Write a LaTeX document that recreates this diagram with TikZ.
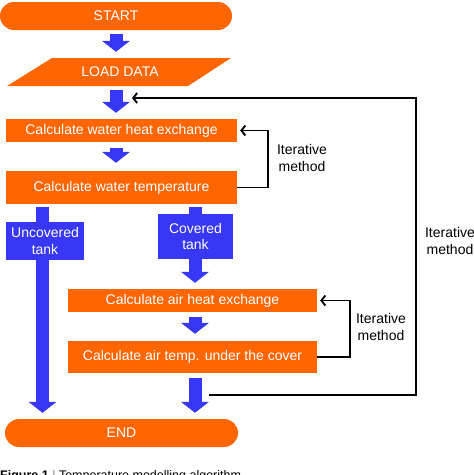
\documentclass[tikz,border=0pt]{standalone}
\usepackage{fontspec}
\setmainfont{Liberation Sans}
\usetikzlibrary{arrows.meta,calc}
\definecolor{orng}{RGB}{255,102,0}
\definecolor{blu}{RGB}{55,55,245}
\begin{document}
\begin{tikzpicture}[x=1pt,y=-1pt,
  box/.style={fill=orng, text=white, inner sep=0pt, font=\fontsize{14}{17}\selectfont},
  term/.style={box, rounded corners=14pt},
  tank/.style={fill=blu, text=white, align=center, inner sep=0pt, font=\fontsize{14}{16.5}\selectfont},
  lbl/.style={align=center, inner sep=0pt, font=\fontsize{14}{17}\selectfont},
  blk/.style={draw=blu, line width=13pt, -{Triangle[width=28pt,length=11pt,line width=0pt]}},
  fb/.style={draw=black, line width=1.8pt, -{Straight Barb[length=4pt,width=10pt]}}
]
\useasboundingbox (0,0) rectangle (474,475);
\coordinate (cL) at (42.5,0);
\coordinate (cC) at (195,0);
\coordinate (cM) at (116,0);

% nodes
\node[term, minimum width=232pt, minimum height=28pt] (start) at (116,16) {START};
\fill[orng] (7,86) -- (52,58) -- (231,58) -- (188,86) -- cycle;
\node[lbl, text=white, minimum height=28pt] (load) at (120,72) {LOAD DATA};
\node[box, minimum width=231pt, minimum height=23pt] (b1) at (121.5,130.5) {Calculate water heat exchange};
\node[box, minimum width=231pt, minimum height=33pt] (b2) at (121.5,187.5) {Calculate water temperature};
\node[box, minimum width=249pt, minimum height=23pt] (b3) at (192.5,300.5) {Calculate air heat exchange};
\node[box, minimum width=249pt, minimum height=32pt] (b4) at (192.5,357) {Calculate air temp. under the cover};
\node[term, minimum width=233pt, minimum height=28pt] (end) at (121.5,433) {END};

% blue block arrows
\draw[blk] ($(start.south -| cM)+(0,4)$) -- ($(load.north -| cM)+(0,-6)$);
\draw[blk] ($(load.south -| cM)+(0,4)$) -- ($(b1.north -| cM)+(0,-6)$);
\draw[blk] ($(b1.south -| cM)+(0,6)$) -- ($(b2.north -| cM)+(0,-8)$);
\draw[blk] ($(b2.south -| cL)+(0,3)$) -- ($(end.north -| cL)+(0,-6)$);
\draw[blk] ($(b2.south -| cC)+(0,3)$) -- ($(b3.north -| cC)+(0,-6)$);
\draw[blk] ($(b3.south -| cC)+(0,5)$) -- ($(b4.north -| cC)+(0,-7)$);
\draw[blk] ($(b4.south -| cC)+(0,5)$) -- ($(end.north -| cC)+(0,-6)$);

\node[tank, minimum width=78pt, minimum height=38pt] (unc) at (45,241) {Uncovered\\tank};
\node[tank, minimum width=75pt, minimum height=45pt] (cov) at (195.5,236.5) {Covered\\tank};

% feedback loops
\draw[fb] (b2.east) -- ++(31,0) |- ([xshift=3pt]b1.east);
\draw[fb] (b4.east) -- ++(33,0) |- ([xshift=3pt]b3.east);
\coordinate (fbs) at (209,395);
\coordinate (fbe) at (132,98);
\draw[fb] (fbs) -- (416,395) |- (fbe);

\node[lbl] (it1) at (302,157.5) {Iterative\\method};
\node[lbl] (it2) at (381,327) {Iterative\\method};
\node[lbl] (it3) at (450,241) {Iterative\\method};

% caption (cut off by the frame)
\node[anchor=base west, inner sep=0pt, font=\fontsize{12.5}{15}\selectfont] (cap) at (0,479.5)
  {\textbf{Figure 1} \textcolor{gray}{|} Temperature modelling algorithm};
\end{tikzpicture}
\end{document}
